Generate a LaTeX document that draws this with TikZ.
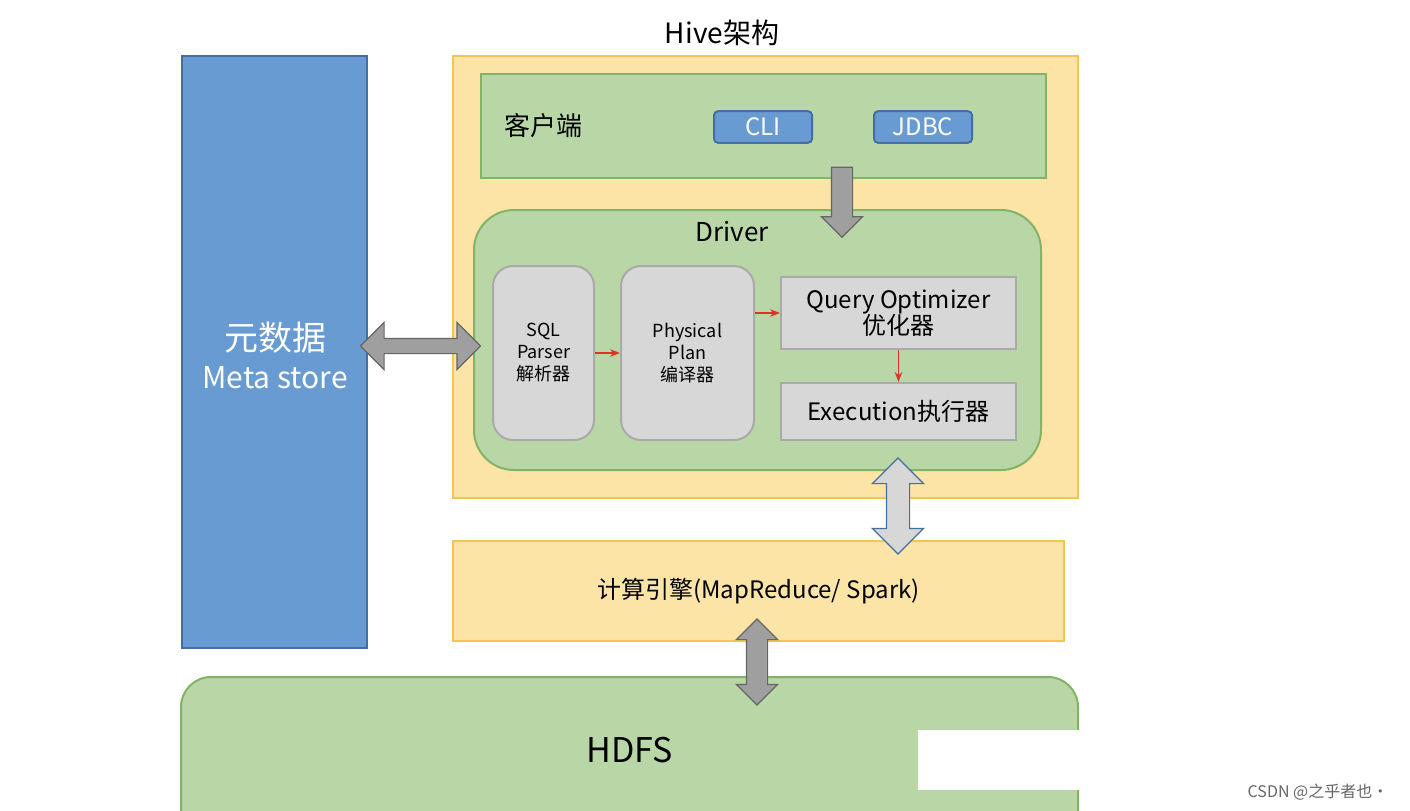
\documentclass[tikz,border=0pt]{standalone}
\usepackage{fontspec}
\setmainfont{Noto Sans CJK SC}
\usetikzlibrary{shapes, arrows.meta, positioning, calc}
\definecolor{meta-bg}{RGB}{104, 155, 210}
\definecolor{meta-bd}{RGB}{70, 110, 160}
\definecolor{hive-bg}{RGB}{251, 228, 165}
\definecolor{hive-bd}{RGB}{246, 196, 80}
\definecolor{grn-bg}{RGB}{185, 215, 166}
\definecolor{grn-bd}{RGB}{130, 179, 102}
\definecolor{box-bg}{RGB}{215, 215, 215}
\definecolor{box-bd}{RGB}{170, 170, 170}
\definecolor{red-arr}{RGB}{220, 50, 40}
\tikzset{
  area/.style={draw, line width=1pt, inner sep=0pt},
  stage/.style={draw=box-bd, fill=box-bg, line width=1pt, rounded corners=10pt,
    align=center, font=\fontsize{9}{11}\selectfont},
  part/.style={draw=box-bd, fill=box-bg, line width=1pt, align=center,
    font=\fontsize{12}{13}\selectfont},
  iface/.style={draw=meta-bd, fill=meta-bg, line width=1pt, rounded corners=2pt,
    text=white, minimum width=49pt, minimum height=15pt, font=\fontsize{12}{12}\selectfont},
  flow/.style={-{Stealth[length=5pt]}, red-arr, line width=0.8pt},
  fat/.style={draw=gray!80!black, fill=gray!75, line width=0.6pt, inner sep=5pt,
    minimum width=0pt}
}
\begin{document}
\begin{tikzpicture}[x=0.5pt, y=-0.5pt]
  \useasboundingbox (0,0) rectangle (1410,810);
  % boxes
  \node (meta) at (274.5,352) [area, draw=meta-bd, fill=meta-bg,
    minimum width=92.5pt, minimum height=296pt] {};
  \node at (275,355) [text=white, align=center, font=\fontsize{15}{19}\selectfont]
    {\fontsize{17}{19}\selectfont 元数据\\Meta store};
  \node (hive) at (765.5,277) [area, draw=hive-bd, fill=hive-bg,
    minimum width=312.5pt, minimum height=221pt] {};
  \node (title) at (722,33) [font=\fontsize{14}{14}\selectfont] {Hive架构};
  \node (client) at (763.5,126) [area, draw=grn-bd, fill=grn-bg,
    minimum width=282.5pt, minimum height=52pt] {};
  \node at (543,126) [font=\fontsize{13}{13}\selectfont] {客户端};
  \node (cli) at (763,127) [iface] {CLI};
  \node (jdbc) at (923,127) [iface] {JDBC};
  \node (driver) at (757.5,340) [area, draw=grn-bd, fill=grn-bg, rounded corners=20pt,
    minimum width=283.5pt, minimum height=130pt] {};
  \node at (732,232) [font=\fontsize{13}{13}\selectfont] {Driver};
  \node (sql) at (543.5,353) [stage, minimum width=50.5pt, minimum height=87pt]
    {SQL\\Parser\\解析器};
  \node (plan) at (687.5,353) [stage, minimum width=66.5pt, minimum height=87pt]
    {Physical\\Plan\\编译器};
  \node (opt) at (898.5,313) [part, minimum width=117.5pt, minimum height=36pt]
    {Query Optimizer\\优化器};
  \node (exec) at (898.5,411.5) [part, minimum width=117.5pt, minimum height=28.5pt]
    {Execution执行器};
  \node (engine) at (758.5,591) [area, draw=hive-bd, fill=hive-bg,
    minimum width=305.5pt, minimum height=50pt, font=\fontsize{12}{12}\selectfont]
    {计算引擎(MapReduce/ Spark)};
  \node (hdfs) at (629.5,760) [area, draw=grn-bd, fill=grn-bg, rounded corners=15pt,
    minimum width=448.5pt, minimum height=83pt] {};
  \node at (630,750) [font=\fontsize{17}{17}\selectfont] {HDFS};
  % watermark
  \node (mark) at (1149,760) [fill=white, minimum width=231pt, minimum height=30pt] {};
  \node at (1318,792) [text=gray!80!black, font=\fontsize{8}{8}\selectfont] {CSDN @之乎者也·};
  % flows
  \draw[flow] (sql.east) -- (plan.west);
  \draw[flow] (plan.east |- opt.west) -- (opt.west);
  \draw[flow] (opt.south) -- (exec.north);
  % fat arrows
  \node at (842,197) [fat, single arrow, rotate=-90,
    single arrow head extend=5pt, minimum height=35pt] {};
  \node at ($(meta.east)!0.5!(driver.west)$) [fat, inner sep=3.5pt, double arrow,
    double arrow head extend=8pt, minimum height=60pt] {};
  \node at (898,506) [fat, draw=meta-bd, fill=box-bg, inner sep=5.5pt,
    double arrow, rotate=90, double arrow head extend=7pt, minimum height=48pt] {};
  \node at (757,662) [fat, double arrow, rotate=90,
    double arrow head extend=5pt, minimum height=43pt] {};
\end{tikzpicture}
\end{document}
